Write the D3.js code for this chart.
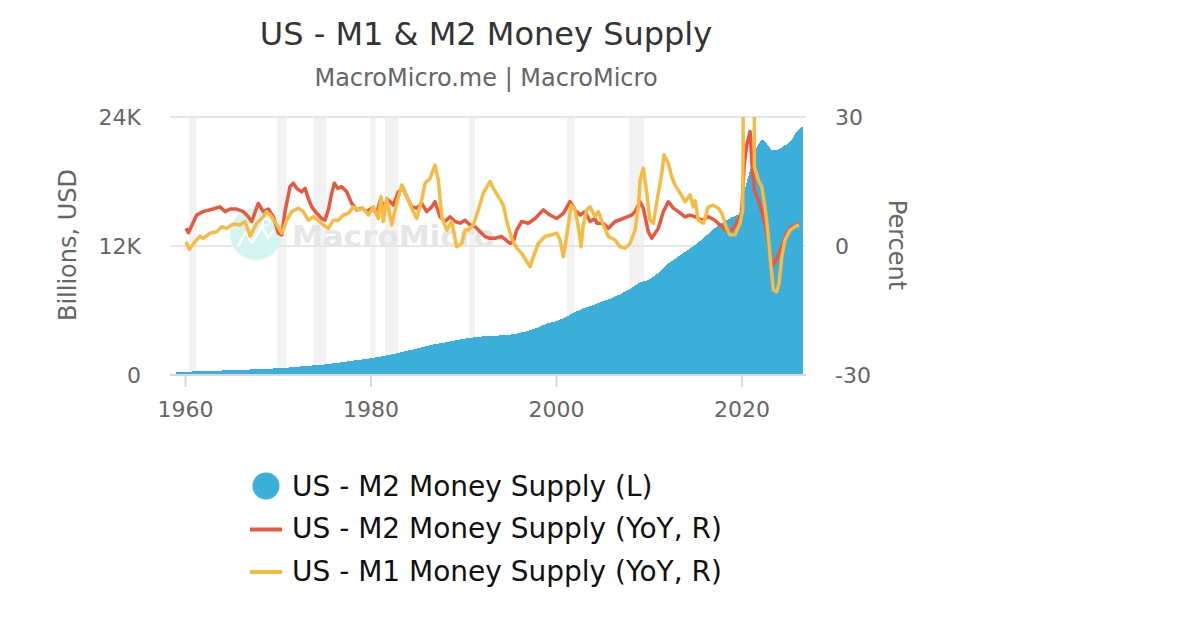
<!DOCTYPE html>
<html>
<head>
<meta charset="utf-8">
<script src="https://cdn.jsdelivr.net/npm/d3@7"></script>
<style>
  html, body { margin: 0; padding: 0; background: #fff; }
  svg { display: block; font-family: "DejaVu Sans", sans-serif; }
</style>
</head>
<body>
<div id="chart"></div>
<script>
// ---- data ----
const titleText = 'US - M1 & M2 Money Supply';
const subtitleText = 'MacroMicro.me | MacroMicro';
const xTickYears = [1960, 1980, 2000, 2020];
const leftTicks = [0, 12000, 24000];
const rightTicks = [-30, 0, 30];

// recession shading, [start, end] in decimal years
const recessions = [
	[1960.45, 1961.25], [1969.95, 1970.95], [1973.85, 1975.25], [1980.0, 1980.55],
	[1981.55, 1983.0], [1990.65, 1991.25], [2001.2, 2002.0], [2007.9, 2009.5], [2020.1, 2020.35]
];

// US - M2 Money Supply, billions USD
const m2Level = [
	[1959, 300], [1960, 310], [1961, 330], [1962, 360], [1963, 390], [1964, 420], [1965, 450],
	[1966, 480], [1967, 510], [1968, 550], [1969, 590], [1970, 620], [1971, 680], [1972, 760],
	[1973, 840], [1974, 900], [1975, 980], [1976, 1080], [1977, 1200], [1978, 1320], [1979, 1430],
	[1980, 1550], [1981, 1700], [1982, 1860], [1983, 2060], [1984, 2260], [1985, 2470], [1986, 2680],
	[1987, 2880], [1988, 3020], [1989, 3180], [1990, 3360], [1991, 3480], [1992, 3580], [1993, 3630],
	[1994, 3680], [1995, 3740], [1996, 3900], [1997, 4100], [1998, 4400], [1999, 4780], [2000, 5000],
	[2001, 5350], [2002, 5850], [2003, 6200], [2004, 6500], [2005, 6850], [2006, 7150], [2007, 7550],
	[2008, 8000], [2009, 8600], [2010, 8850], [2011, 9450], [2012, 10300], [2013, 10900], [2014, 11500],
	[2015, 12100], [2016, 12800], [2017, 13600], [2018, 14200], [2019, 14700], [2020, 15000],
	[2020.25, 16800], [2020.5, 17800], [2020.75, 18500], [2021, 19300], [2021.25, 20300], [2021.5, 20900],
	[2021.75, 21400], [2022, 21700], [2022.25, 21900], [2022.5, 21800], [2022.75, 21500], [2023, 21200],
	[2023.25, 20900], [2023.5, 20900], [2023.75, 20900], [2024, 21000], [2024.25, 21100], [2024.5, 21300],
	[2024.75, 21400], [2025, 21500], [2025.25, 21700], [2025.5, 22000], [2025.75, 22400], [2026, 22700],
	[2026.25, 22900], [2026.5, 23100], [2026.6, 23100]
];

// US - M2 Money Supply (YoY, %)
const m2Yoy = [
	[1960.11, 4.1], [1960.36, 3.1], [1961.26, 7.2], [1961.94, 8.0], [1963.02, 8.6], [1963.77, 9.1],
	[1964.31, 8.0], [1964.85, 8.6], [1965.57, 8.6], [1966.29, 8.0], [1966.82, 6.8], [1967.19, 5.7],
	[1967.90, 9.9], [1968.44, 8.0], [1968.98, 8.6], [1969.52, 6.8], [1970.06, 3.0], [1970.43, 2.6],
	[1970.78, 8.0], [1971.32, 13.8], [1971.68, 14.6], [1972.04, 13.4], [1972.58, 12.6], [1972.94, 13.4],
	[1973.29, 11.1], [1973.66, 9.1], [1974.20, 7.6], [1974.74, 6.4], [1975.09, 6.0], [1975.45, 8.4],
	[1975.82, 12.3], [1976.10, 14.6], [1976.46, 13.4], [1976.89, 13.8], [1977.43, 12.6], [1977.97, 9.9],
	[1978.51, 8.4], [1979.05, 8.8], [1979.59, 8.0], [1980.13, 8.8], [1980.67, 7.6], [1981.02, 10.5],
	[1981.56, 9.5], [1981.92, 10.7], [1982.46, 9.5], [1983.00, 12.6], [1983.54, 13.4], [1983.90, 11.5],
	[1984.44, 9.1], [1984.98, 8.8], [1985.52, 9.9], [1986.06, 8.0], [1986.60, 9.1], [1986.95, 10.3],
	[1987.49, 6.8], [1988.03, 5.7], [1988.57, 6.8], [1989.11, 5.7], [1989.65, 5.3], [1990.19, 6.0],
	[1990.73, 4.9], [1991.27, 4.5], [1991.81, 3.3], [1992.35, 2.2], [1992.88, 1.8], [1993.42, 1.8],
	[1994.15, 2.2], [1995.04, 0.6], [1995.40, 1.0], [1995.76, 3.7], [1996.30, 5.7], [1997.01, 5.3],
	[1997.74, 6.4], [1998.63, 8.4], [1999.35, 7.2], [2000.08, 6.4], [2000.79, 7.6], [2001.51, 10.3],
	[2002.05, 8.4], [2002.59, 7.2], [2003.13, 8.0], [2003.67, 5.7], [2004.20, 6.4], [2004.39, 5.3],
	[2005.10, 5.3], [2005.64, 4.1], [2006.36, 5.7], [2007.26, 6.4], [2008.16, 7.2], [2008.52, 8.0],
	[2009.06, 10.3], [2009.41, 8.8], [2009.95, 3.3], [2010.32, 1.8], [2011.03, 4.1], [2011.57, 8.0],
	[2012.11, 10.3], [2012.65, 8.8], [2013.19, 8.0], [2013.91, 6.8], [2014.45, 7.2], [2014.99, 6.8],
	[2015.71, 6.0], [2016.42, 6.8], [2017.14, 6.0], [2017.87, 4.5], [2018.58, 3.3], [2019.12, 4.1],
	[2019.66, 6.0], [2020.02, 8.0], [2020.30, 19.2], [2020.56, 23.5], [2020.92, 26.6], [2021.17, 17.7],
	[2021.38, 13.0], [2021.82, 10.7], [2022.36, 6.8], [2022.89, 1.4], [2023.26, -4.8], [2023.80, -2.9],
	[2024.34, -0.2], [2024.88, 3.0], [2025.41, 4.5], [2025.95, 4.9], [2026.20, 5.3]
];

// US - M1 Money Supply (YoY, %) -- 2020-21 spike runs off the top of the chart
const m1Yoy = [
	[1960.11, 1.0], [1960.46, -0.8], [1961.08, 1.0], [1961.62, 2.3], [1961.97, 1.8], [1962.70, 3.0],
	[1963.42, 3.3], [1963.96, 4.5], [1964.50, 4.1], [1965.21, 5.1], [1965.93, 4.9], [1966.47, 5.7],
	[1967.01, 2.3], [1967.73, 5.3], [1968.27, 6.4], [1968.81, 8.0], [1969.35, 6.8], [1969.89, 4.9],
	[1970.43, 3.0], [1970.97, 6.0], [1971.50, 8.0], [1972.22, 8.8], [1972.75, 8.0], [1973.29, 6.0],
	[1973.83, 6.8], [1974.37, 6.0], [1974.91, 4.9], [1975.45, 4.1], [1975.99, 6.0], [1976.53, 6.0],
	[1977.07, 7.2], [1977.61, 7.6], [1978.15, 9.1], [1978.68, 8.4], [1979.22, 8.8], [1979.76, 7.2],
	[1980.30, 9.1], [1980.84, 6.4], [1981.13, 11.5], [1981.38, 5.7], [1981.74, 11.1], [1982.28, 4.9],
	[1982.82, 9.9], [1983.36, 14.2], [1983.90, 11.5], [1984.44, 8.8], [1984.98, 6.4], [1985.52, 10.7],
	[1985.88, 14.6], [1986.42, 15.7], [1986.95, 18.8], [1987.31, 15.3], [1987.68, 6.8], [1988.22, 3.7],
	[1988.76, 5.7], [1989.29, -0.2], [1989.83, 0.6], [1990.19, 3.7], [1990.54, 3.7], [1991.08, 4.9],
	[1991.62, 8.4], [1992.16, 12.3], [1992.88, 15.0], [1993.24, 13.4], [1993.78, 11.5], [1994.32, 9.5],
	[1994.69, 5.7], [1995.22, 1.8], [1995.76, -0.5], [1996.30, -1.7], [1996.84, -3.6], [1997.20, -4.8],
	[1997.55, -2.5], [1998.09, 0.6], [1998.81, 2.2], [1999.54, 2.6], [2000.08, 3.0], [2000.43, 1.4],
	[2000.79, -2.5], [2001.15, 2.2], [2001.62, 9.5], [2002.05, 8.4], [2002.40, 4.5], [2002.70, -0.2],
	[2002.94, 4.9], [2003.31, 8.4], [2003.67, 9.1], [2004.20, 6.8], [2004.56, 8.0], [2005.10, 4.9],
	[2005.64, 2.2], [2006.36, 1.4], [2006.90, -0.2], [2007.44, -0.5], [2007.98, 0.6], [2008.52, 3.7],
	[2008.88, 9.1], [2009.06, 15.3], [2009.41, 18.1], [2009.78, 12.3], [2010.13, 6.0], [2010.49, 5.3],
	[2011.03, 12.3], [2011.40, 16.9], [2011.64, 21.2], [2012.11, 19.2], [2012.47, 16.1], [2012.83, 14.2],
	[2013.37, 12.3], [2013.91, 10.3], [2014.45, 11.9], [2014.80, 9.1], [2015.00, 10.5], [2015.34, 6.0],
	[2015.90, 5.3], [2016.42, 9.1], [2016.95, 9.5], [2017.50, 8.8], [2017.87, 7.6], [2018.40, 4.1],
	[2018.76, 2.6], [2019.30, 2.6], [2019.84, 5.3], [2020.13, 8.4], [2020.25, 60], [2020.45, 250],
	[2020.90, 330], [2021.28, 300], [2021.38, 18.5], [2021.82, 15.3], [2022.18, 13.8], [2022.53, 9.1],
	[2022.89, 2.2], [2023.18, -4.8], [2023.43, -10.2], [2023.80, -10.6], [2024.04, -8.7], [2024.34, -2.5],
	[2024.69, 1.4], [2025.23, 3.7], [2025.77, 4.5], [2026.20, 4.9]
];

const legendItems = [
	{ name: 'US - M2 Money Supply (L)', color: '#3BAFDA', symbol: 'circle' },
	{ name: 'US - M2 Money Supply (YoY, R)', color: '#E9573F', symbol: 'line' },
	{ name: 'US - M1 Money Supply (YoY, R)', color: '#F6BB42', symbol: 'line' }
];

// ---- chart ----
function MoneySupplyChart(){
	const self = {
		_width: 1200,
		_height: 630,
		_plot: { left: 170, right: 806, top: 117, bottom: 375 },
		_labelColor: '#666666',
		_gridColor: '#e6e6e6',
	};

	function _init(){
		self.render = _render;
		return self;
	}

	function _setupScales(){
		const p = self._plot;
		self._x = d3.scaleLinear().domain([1958.38, 2026.95]).range([p.left, p.right]);
		self._yLeft = d3.scaleLinear().domain([0, 24000]).range([p.bottom, p.top]);
		self._yRight = d3.scaleLinear().domain([-30, 30]).range([p.bottom, p.top]);
	}

	function _renderTitles(svg){
		svg.append('text')
			.attr('x', 486).attr('y', 45)
			.attr('text-anchor', 'middle')
			.attr('font-size', 32)
			.attr('fill', '#333333')
			.text(titleText);
		svg.append('text')
			.attr('x', 486).attr('y', 86)
			.attr('text-anchor', 'middle')
			.attr('font-size', 24)
			.attr('fill', self._labelColor)
			.text(subtitleText);
	}

	function _renderBackground(svg){
		const p = self._plot, x = self._x;

		svg.append('g').attr('class', 'recessions')
			.selectAll('rect')
			.data(recessions)
			.join('rect')
				.attr('x', d => x(d[0]))
				.attr('width', d => x(d[1]) - x(d[0]))
				.attr('y', p.top)
				.attr('height', p.bottom - p.top)
				.attr('fill', '#f2f2f2');

		svg.append('g').attr('class', 'grid')
			.selectAll('line')
			.data(leftTicks)
			.join('line')
				.attr('x1', p.left).attr('x2', p.right)
				.attr('y1', d => self._yLeft(d)).attr('y2', d => self._yLeft(d))
				.attr('stroke', self._gridColor)
				.attr('stroke-width', 2)
				.attr('shape-rendering', 'crispEdges');
	}

	function _renderWatermark(svg){
		const g = svg.append('g').attr('class', 'watermark');
		g.append('circle')
			.attr('cx', 256).attr('cy', 234).attr('r', 26)
			.attr('fill', '#d4f5ef');
		g.append('path')
			.attr('d', 'M238,246 L246,232 L252,243 L262,226 L268,238 L274,230')
			.attr('fill', 'none')
			.attr('stroke', '#fff')
			.attr('stroke-width', 2.5)
			.attr('stroke-linejoin', 'round');
		g.append('circle')
			.attr('cx', 266).attr('cy', 222).attr('r', 3.5)
			.attr('fill', 'none').attr('stroke', '#fff').attr('stroke-width', 2);
		g.append('text')
			.attr('x', 292).attr('y', 247)
			.attr('font-size', 31)
			.attr('font-weight', 'bold')
			.attr('fill', '#e6e6e6')
			.text('MacroMicro');
	}

	function _renderSeries(svg){
		const p = self._plot, x = self._x;

		svg.append('clipPath').attr('id', 'plotClip')
			.append('rect')
			.attr('x', p.left).attr('y', p.top)
			.attr('width', p.right - p.left).attr('height', p.bottom - p.top);

		// columns in the original: many thin bars, so a crisp area reads the same
		const area = d3.area()
			.x(d => x(d[0]))
			.y0(self._yLeft(0))
			.y1(d => self._yLeft(d[1]));

		svg.append('path')
			.datum(m2Level)
			.attr('d', area)
			.attr('fill', '#3BAFDA')
			.attr('shape-rendering', 'crispEdges');

		const line = d3.line()
			.x(d => x(d[0]))
			.y(d => self._yRight(d[1]));

		const lines = svg.append('g').attr('clip-path', 'url(#plotClip)');
		lines.append('path')
			.datum(m2Yoy)
			.attr('d', line)
			.attr('fill', 'none')
			.attr('stroke', '#E9573F')
			.attr('stroke-width', 3.5)
			.attr('stroke-linejoin', 'round');
		lines.append('path')
			.datum(m1Yoy)
			.attr('d', line)
			.attr('fill', 'none')
			.attr('stroke', '#F6BB42')
			.attr('stroke-width', 3.5)
			.attr('stroke-linejoin', 'round');
	}

	function _styleLabels(sel){
		sel.attr('font-size', 22)
			.attr('font-family', '"DejaVu Sans", sans-serif')
			.attr('fill', self._labelColor);
	}

	function _renderAxes(svg){
		const p = self._plot;

		// x axis
		const xAxis = svg.append('g')
			.attr('transform', `translate(0, ${p.bottom})`)
			.call(d3.axisBottom(self._x).tickValues(xTickYears).tickFormat(d => String(d)).tickSize(12).tickPadding(14));
		xAxis.select('.domain').attr('stroke', '#d8d8d8').attr('stroke-width', 2)
			.attr('d', `M${p.left},0H${p.right}`);
		xAxis.selectAll('.tick line').attr('stroke', '#d8d8d8').attr('stroke-width', 2);
		_styleLabels(xAxis.selectAll('.tick text'));

		// left axis
		const yl = svg.append('g')
			.attr('transform', `translate(${p.left}, 0)`)
			.call(d3.axisLeft(self._yLeft).tickValues(leftTicks)
				.tickFormat(d => d === 0 ? '0' : (d / 1000) + 'K').tickSize(0).tickPadding(29));
		yl.select('.domain').remove();
		_styleLabels(yl.selectAll('.tick text'));

		// right axis (plain hyphen for negatives)
		const yr = svg.append('g')
			.attr('transform', `translate(${p.right}, 0)`)
			.call(d3.axisRight(self._yRight).tickValues(rightTicks)
				.tickFormat(d => String(d)).tickSize(0).tickPadding(29));
		yr.select('.domain').remove();
		_styleLabels(yr.selectAll('.tick text'));

		svg.append('text')
			.attr('transform', 'translate(76, 245) rotate(-90)')
			.attr('text-anchor', 'middle')
			.attr('font-size', 24)
			.attr('fill', self._labelColor)
			.text('Billions, USD');
		svg.append('text')
			.attr('transform', 'translate(889, 245) rotate(90)')
			.attr('text-anchor', 'middle')
			.attr('font-size', 24)
			.attr('fill', self._labelColor)
			.text('Percent');
	}

	function _renderLegend(svg){
		const g = svg.append('g').attr('class', 'legend')
			.selectAll('g')
			.data(legendItems)
			.join('g')
				.attr('transform', (d, i) => `translate(0, ${486 + i * 42.5})`);

		g.each(function(d){
			const item = d3.select(this);
			if(d.symbol === 'circle'){
				item.append('circle').attr('cx', 266).attr('cy', 0).attr('r', 13.5).attr('fill', d.color);
			} else {
				item.append('line')
					.attr('x1', 250).attr('x2', 282).attr('y1', 1).attr('y2', 1)
					.attr('stroke', d.color).attr('stroke-width', 4);
			}
		});

		g.append('text')
			.attr('x', 292).attr('y', 0).attr('dy', '0.35em')
			.attr('font-size', 28)
			.attr('fill', '#111')
			.text(d => d.name);
	}

	function _render(container){
		_setupScales();
		const svg = d3.select(container).append('svg')
			.attr('width', self._width)
			.attr('height', self._height);

		_renderTitles(svg);
		_renderBackground(svg);
		_renderWatermark(svg);
		_renderSeries(svg);
		_renderAxes(svg);
		_renderLegend(svg);
	}

	return _init();
}

MoneySupplyChart().render(document.getElementById('chart'));
</script>
</body>
</html>
